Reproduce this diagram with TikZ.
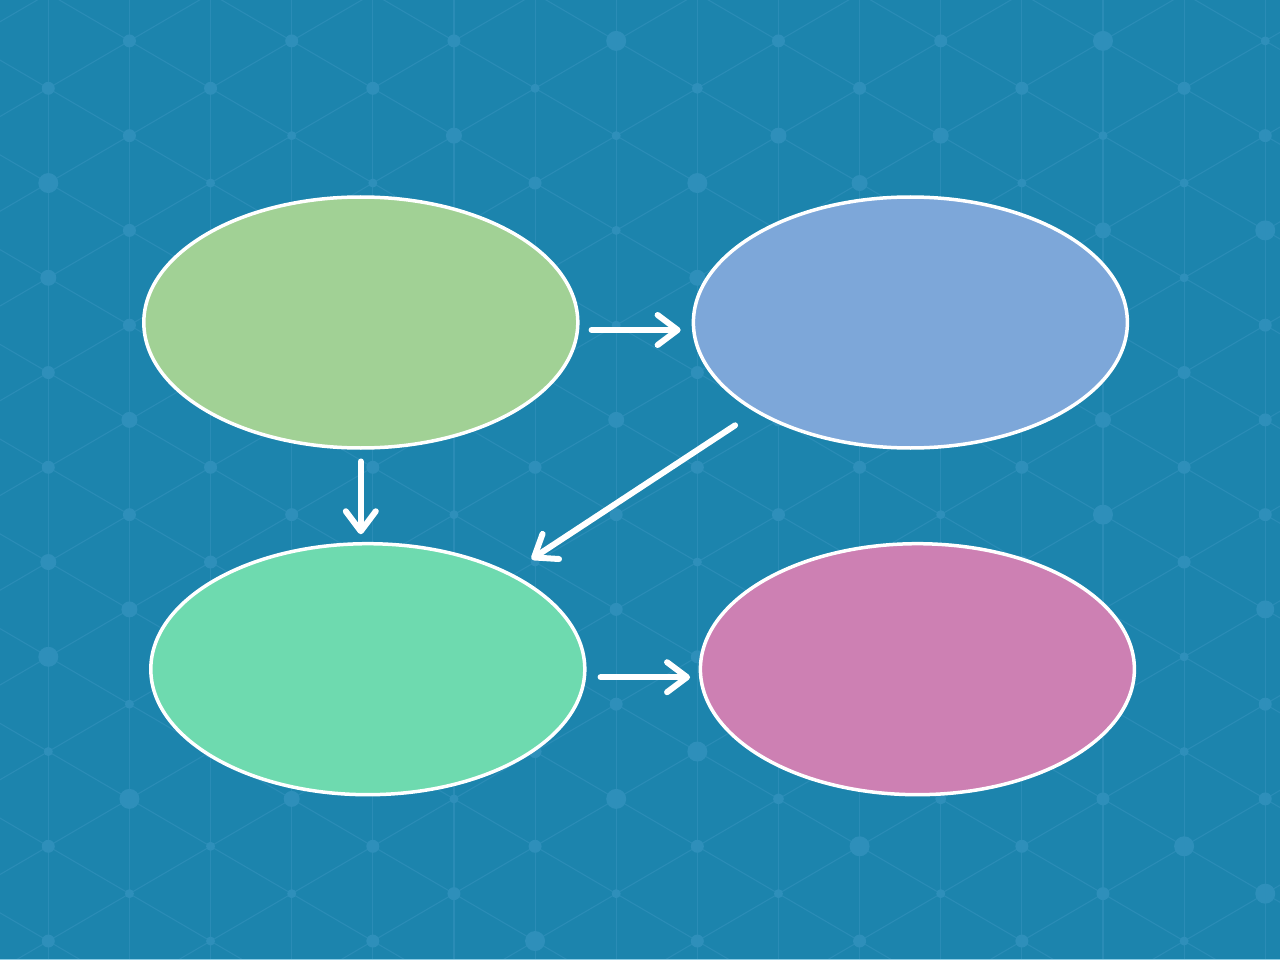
\documentclass[tikz,border=0pt]{standalone}
\usetikzlibrary{shapes.geometric,arrows.meta}
\definecolor{bg}{HTML}{1C84AD}
\definecolor{gridline}{HTML}{2A8CB6}
\definecolor{griddot}{HTML}{2E8FBA}
\definecolor{cgreen}{HTML}{A1D195}
\definecolor{cblue}{HTML}{7DA7D9}
\definecolor{cteal}{HTML}{6EDAAF}
\definecolor{cpink}{HTML}{CD80B3}
\definecolor{edge}{HTML}{8CCBE3}
\begin{document}
\begin{tikzpicture}[x=1pt,y=-1pt,
  blob/.style={ellipse, draw=white, line width=3.5pt, minimum width=434pt, minimum height=251pt, inner sep=0pt},
  arr/.style={draw=white, line width=6pt, line cap=round,
    -{Straight Barb[length=20pt,width=30pt,line width=6pt,round]}},
  gline/.style={draw=gridline, line width=1.1pt}]
\fill[bg] (0,0) rectangle (1280,960);
\useasboundingbox (0,0) rectangle (1280,960);
\begin{scope}
\clip (0,0) rectangle (1280,960);
\foreach \k in {0,...,15}
  \draw[gline] ({48.3+81.13*\k},-5) -- ({48.3+81.13*\k},965);
\foreach \m in {-9,...,10}
  \draw[gline] (-20,{48.42+94.75*\m}) -- (1300,{819.2+94.75*\m});
\foreach \m in {-2,...,17}
  \draw[gline] (-20,{128.18+94.75*\m}) -- (1300,{-642.6+94.75*\m});
\foreach \k/\rl in {
  0/{4.5,6.5,10,8,6.5,6.5,8,10,4.5,6.5,6.5},
  1/{6.5,6.5,6.5,6.5,8,6.5,8,4.5,10,4.5},
  2/{4.5,6.5,4.5,6.5,6.5,6.5,6.5,6.5,6.5,4.5,4.5},
  3/{6.5,4.5,6.5,6.5,6.5,6.5,6.5,6.5,8,4.5},
  4/{4.5,6.5,4.5,6.5,6.5,6.5,6.5,6.5,6.5,6.5,6.5},
  5/{6.5,8,6.5,6.5,6.5,4.5,6.5,6.5,4.5,6.5},
  6/{4.5,4.5,6.5,6.5,6.5,6.5,4.5,6.5,6.5,6.5,10},
  7/{10,4.5,4.5,4.5,8,6.5,6.5,6.5,10,4.5},
  8/{4.5,5.5,10,8,6.5,6.5,4.5,6.5,10,6.5,6.5},
  9/{6.5,8,6.5,6.5,6.5,6.5,6.5,6.5,5.5,4.5},
  10/{4.5,6.5,8,6.5,6.5,6.5,6.5,6.5,6.5,10,6.5},
  11/{6.5,8,6.5,6.5,6.5,4.5,6.5,6.5,5.5,4.5},
  12/{4.5,6.5,4.5,6.5,6.5,6.5,6.5,6.5,6.5,6.5,6.5},
  13/{10,4.5,8,6.5,8,10,6.5,6.5,6.5,6.5},
  14/{4.5,6.5,4.5,4.5,6.5,6.5,6.5,4.5,4.5,10,4.5},
  15/{4.5,6.5,10,6.5,6.5,6.5,9,6.5,6.5,10}} {
  \pgfmathsetmacro{\xx}{48.3+81.13*\k}
  \pgfmathsetmacro{\yy}{mod(\k,2)==1 ? 40.9 : -6.45}
  \foreach \r [count=\j from 0] in \rl {
    \fill[griddot] (\xx,{\yy+94.75*\j}) circle[radius=\r];
  }
}
\draw[edge, line width=1.5pt] (0,959.25) -- (1280,959.25);
\end{scope}
\node[blob, fill=cgreen] (a) at (360.8,322.5) {};
\node[blob, fill=cblue]  (b) at (910.4,322.5) {};
\node[blob, fill=cteal]  (c) at (367.8,669.2) {};
\node[blob, fill=cpink]  (d) at (917.4,669.2) {};
\draw[arr, shorten <=12pt, shorten >=11pt] ([yshift=-7.5pt]a.east) -- ([yshift=-7.5pt]b.west);
\draw[arr, shorten <=11.7pt, shorten >=7.7pt] (a.south) -- (a.south |- c.north);
\draw[arr, shorten <=24pt, shorten >=25pt] (b.210.8) -- (c.34.6);
\draw[arr, shorten <=14pt, shorten >=8.6pt] ([yshift=-8pt]c.east) -- ([yshift=-8pt]d.west);
\end{tikzpicture}
\end{document}
